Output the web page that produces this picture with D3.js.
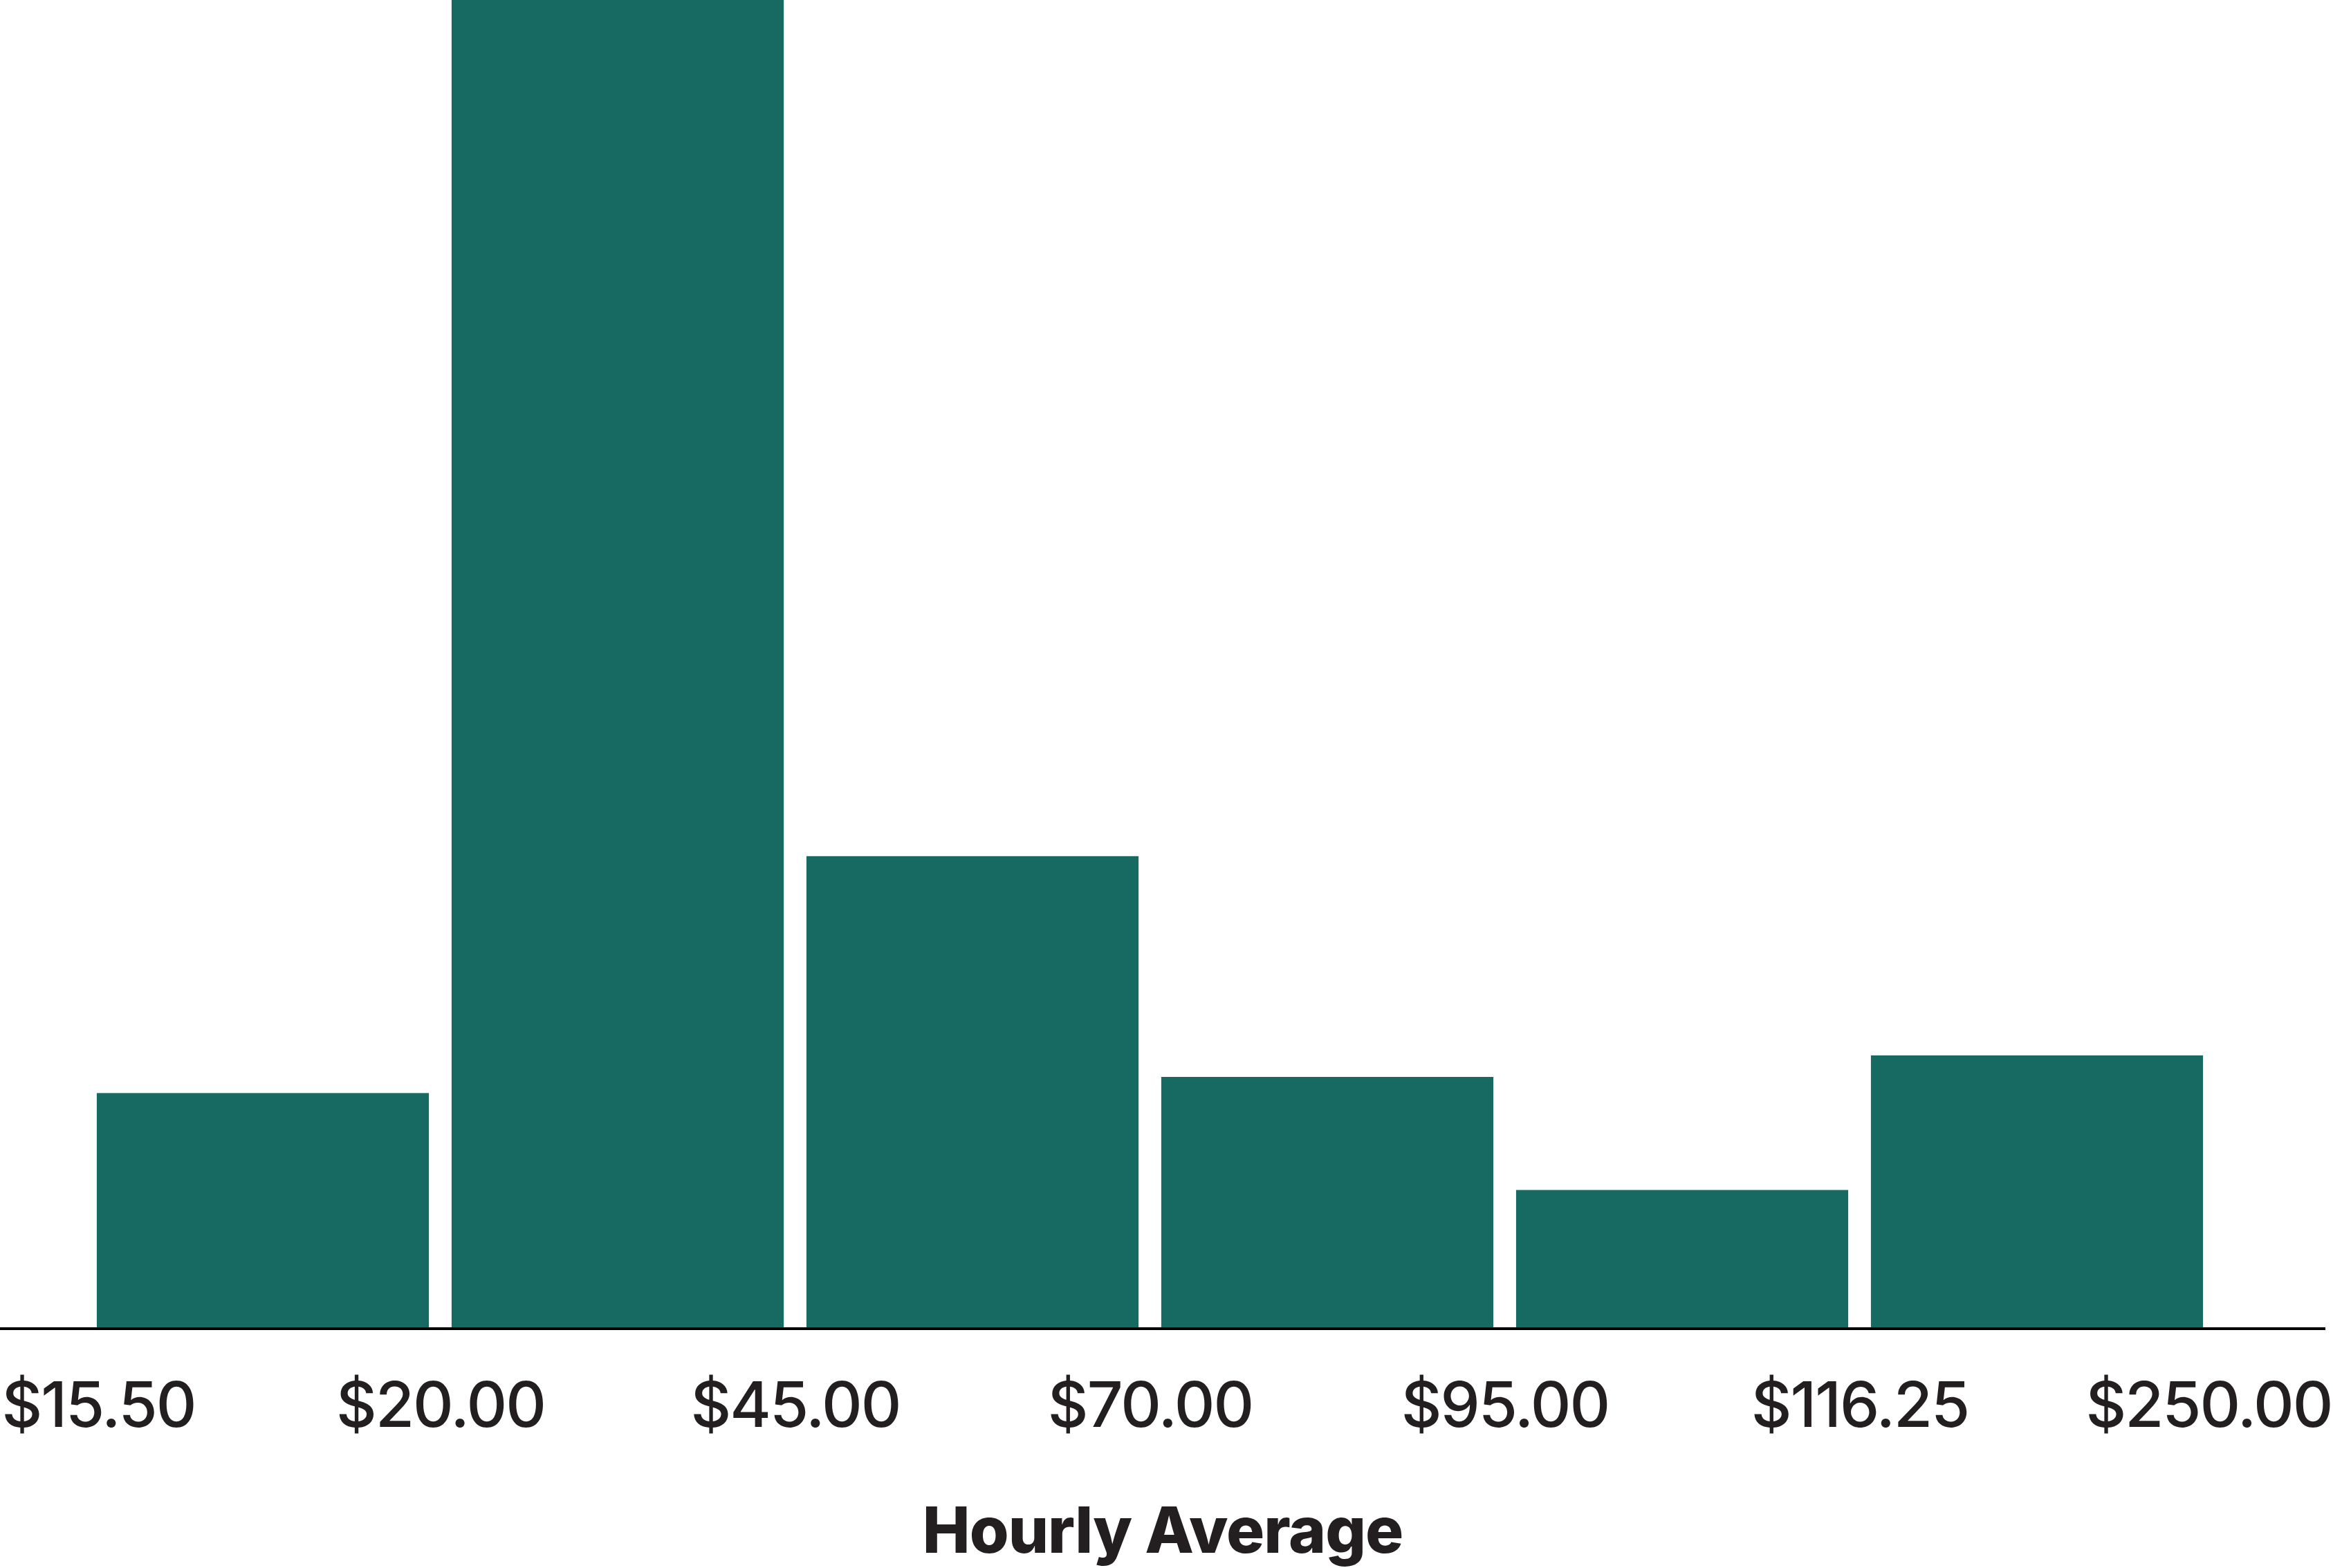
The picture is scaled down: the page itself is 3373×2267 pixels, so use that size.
<!DOCTYPE html>
<html>
<head>
<meta charset="utf-8">
<script src="https://cdn.jsdelivr.net/npm/d3@7"></script>
<style>
  html, body { margin: 0; padding: 0; background: #ffffff; }
  svg { display: block; }
  .tick-label { font-family: Inter, "Noto Sans", sans-serif; font-size: 91px; font-weight: 500; fill: #231f20; letter-spacing: -2px; }
  .axis-title { font-family: Inter, "Noto Sans", sans-serif; font-size: 92px; font-weight: 800; fill: #231f20; letter-spacing: -1px; }
</style>
</head>
<body>
<div id="chart"></div>
<script>
// bin edges shown under the axis
const edgeLabels = ["$15.50", "$20.00", "$45.00", "$70.00", "$95.00", "$116.25", "$250.00"];
// one bar per bin (between consecutive edges)
const bins = ["15.50-20", "20-45", "45-70", "70-95", "95-116.25", "116.25-250"];
// share of rates in each bin, percent
const shares = [8.7, 49.3, 17.5, 9.3, 5.1, 10.1];

const W = 3373, H = 2267;
const baseY = 1921;

const svg = d3.select("#chart").append("svg")
    .attr("width", W)
    .attr("height", H);

const x0 = 123.5, x1 = 3201.5;

let x = d3.scaleBand()
    .domain(bins)
    .range([x0, x1])
    .paddingInner(0.064)
    .paddingOuter(0.032);

let xEdge = d3.scalePoint()
    .domain(edgeLabels)
    .range([x0, x1]);

let y = d3.scaleLinear()
    .domain([0, d3.max(shares)])
    .range([baseY - 2, 0]);

svg.append("g")
    .attr("class", "bars")
    .selectAll("rect")
    .data(shares)
    .enter()
    .append("rect")
    .attr("x", (d, i) => x(bins[i]))
    .attr("width", x.bandwidth())
    .attr("y", d => y(d))
    .attr("height", d => y(0) - y(d))
    .attr("fill", "#166a62");

// baseline
svg.append("line")
    .attr("x1", 0)
    .attr("x2", 3362)
    .attr("y1", baseY)
    .attr("y2", baseY)
    .attr("stroke", "#000")
    .attr("stroke-width", 4);

let xAxis = d3.axisBottom(xEdge)
    .tickSize(0)
    .tickPadding(0);

let axisG = svg.append("g")
    .attr("class", "axis")
    .attr("transform", "translate(0," + baseY + ")")
    .call(xAxis);

axisG.select(".domain").remove();
axisG.attr("font-size", null).attr("font-family", null);
axisG.selectAll("text")
    .attr("class", "tick-label")
    .attr("y", 142)
    .attr("dy", 0)
    .attr("fill", null);

// keep first / last label inside the picture
axisG.selectAll(".tick").each(function(d) {
    let t = d3.select(this).select("text");
    let bb = this.getBBox();
    let cx = xEdge(d);
    let left = cx + bb.x, right = cx + bb.x + bb.width;
    if (left < 2) t.attr("x", 2 - left);
    if (right > W - 2) t.attr("x", (W - 2) - right);
});

svg.append("text")
    .attr("class", "axis-title")
    .attr("x", 1681)
    .attr("y", 2245)
    .attr("text-anchor", "middle")
    .text("Hourly Average");
</script>
</body>
</html>
